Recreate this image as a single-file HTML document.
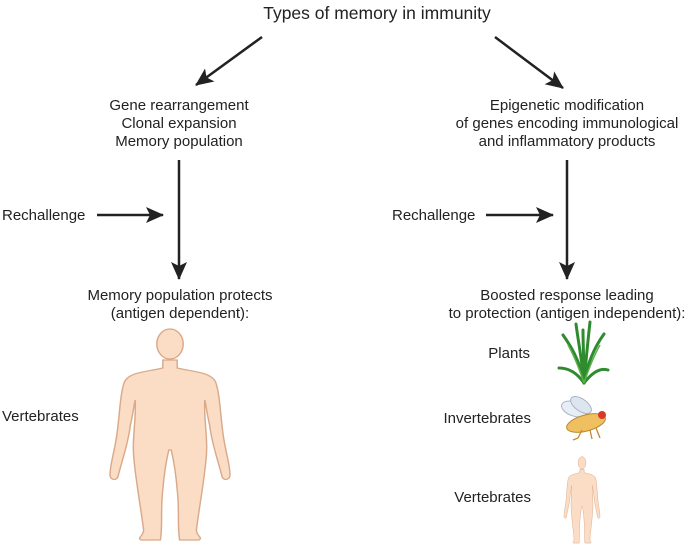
<!DOCTYPE html>
<html><head><meta charset="utf-8"><style>
html,body{margin:0;padding:0;background:#fff;}
svg{display:block;}
text{font-family:"Liberation Sans",sans-serif;fill:#222;}
</style></head><body>
<svg width="685" height="546" viewBox="0 0 685 546" xmlns="http://www.w3.org/2000/svg">
<defs>
<marker id="ahb" markerWidth="18" markerHeight="16" refX="17" refY="8" orient="auto" markerUnits="userSpaceOnUse">
<path d="M0,0 L18,8 L0,16 L4,8 Z" fill="#222"/>
</marker>
<g id="human">
<path d="M-6,-70 L-6,-62 C-20,-58 -34,-58 -38,-48 C-42,-35 -42,-10 -45,10 C-47,25 -50,35 -50,45 C-50,50 -44,52 -43,45 C-40,30 -35,15 -33,-5 C-31,-15 -30,-25 -29,-30 C-28,-10 -32,10 -30,30 C-28,55 -24,80 -22,100 C-22,106 -28,108 -24,110 L-8,110 C-6,95 -8,80 -6,60 C-5,45 -3,30 -1,20 L1,20 C3,30 5,45 6,60 C8,80 6,95 8,110 L24,110 C28,108 22,106 22,100 C24,80 28,55 30,30 C32,10 28,-10 29,-30 C30,-25 31,-15 33,-5 C35,15 40,30 43,45 C44,52 50,50 50,45 C50,35 47,25 45,10 C42,-10 42,-35 38,-48 C34,-58 20,-58 6,-62 L6,-70 Z" fill="#fbdcc4" stroke="#d9a98a" stroke-width="1.2"/>
<ellipse cx="0" cy="-86" rx="11" ry="15" fill="#fbdcc4" stroke="#d9a98a" stroke-width="1.2"/>
</g>
</defs>

<text x="377" y="19" font-size="17.5" text-anchor="middle">Types of memory in immunity</text>
<line x1="262" y1="37" x2="196" y2="85" stroke="#222" stroke-width="2.5" marker-end="url(#ahb)"/>
<line x1="495" y1="37" x2="563" y2="88" stroke="#222" stroke-width="2.5" marker-end="url(#ahb)"/>

<g font-size="15" text-anchor="middle">
<text x="179" y="110">Gene rearrangement</text>
<text x="179" y="128">Clonal expansion</text>
<text x="179" y="146">Memory population</text>
<text x="567" y="110">Epigenetic modification</text>
<text x="567" y="128">of genes encoding immunological</text>
<text x="567" y="146">and inflammatory products</text>
</g>

<line x1="179" y1="160" x2="179" y2="279" stroke="#222" stroke-width="2.5" marker-end="url(#ahb)"/>
<line x1="567" y1="160" x2="567" y2="279" stroke="#222" stroke-width="2.5" marker-end="url(#ahb)"/>

<text x="2" y="220" font-size="15">Rechallenge</text>
<line x1="97" y1="215" x2="163" y2="215" stroke="#222" stroke-width="2.5" marker-end="url(#ahb)"/>
<text x="392" y="220" font-size="15">Rechallenge</text>
<line x1="486" y1="215" x2="553" y2="215" stroke="#222" stroke-width="2.5" marker-end="url(#ahb)"/>

<g font-size="15" text-anchor="middle">
<text x="180" y="300">Memory population protects</text>
<text x="180" y="318">(antigen dependent):</text>
<text x="567" y="300">Boosted response leading</text>
<text x="567" y="318">to protection (antigen independent):</text>
</g>

<use href="#human" transform="translate(170,430) scale(1.2,1.0)"/>
<text x="2" y="421" font-size="15">Vertebrates</text>

<text x="530" y="358" font-size="15" text-anchor="end">Plants</text>
<g stroke="#2e8b2e" stroke-width="3" fill="none" stroke-linecap="round">
<path d="M584,383 C580,360 570,345 563,335"/>
<path d="M584,383 C582,360 578,340 576,324"/>
<path d="M584,383 C586,360 588,340 590,322"/>
<path d="M584,383 C588,360 596,345 604,334"/>
<path d="M584,383 C575,370 566,368 559,368"/>
<path d="M584,383 C594,370 602,368 608,370"/>
<path d="M584,383 C584,360 583,345 583,330"/>
</g>
<g stroke="#5bb04a" stroke-width="1.5" fill="none">
<path d="M584,383 C578,365 572,352 568,345"/>
<path d="M584,383 C590,365 596,352 600,345"/>
</g>

<text x="531" y="423" font-size="15" text-anchor="end">Invertebrates</text>
<ellipse cx="574" cy="409" rx="13" ry="7" fill="#e8eef6" stroke="#aab6c4" transform="rotate(20 574 409)"/>
<ellipse cx="581" cy="405" rx="12" ry="6" fill="#dde6f0" stroke="#aab6c4" transform="rotate(35 581 405)"/>
<ellipse cx="586" cy="423" rx="20" ry="8" fill="#f0c060" stroke="#b98a2e" transform="rotate(-15 586 423)"/>
<circle cx="602" cy="415" r="4" fill="#d83a2a"/>
<g stroke="#c08a30" stroke-width="1.3" fill="none">
<path d="M582,430 l-4,8 l-5,2"/><path d="M590,430 l2,9"/><path d="M596,428 l4,10"/>
</g>

<text x="531" y="502" font-size="15" text-anchor="end">Vertebrates</text>
<use href="#human" transform="translate(582,498) scale(0.36,0.41)"/>
</svg>
</body></html>
